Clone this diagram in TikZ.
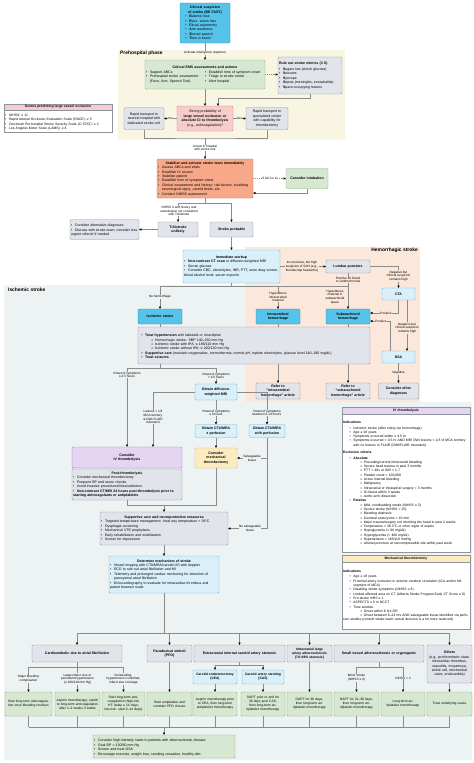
\documentclass[tikz,border=0pt]{standalone}
\usepackage{fontspec}
\setmainfont{Liberation Sans}
\usepackage{xcolor}
\usetikzlibrary{arrows.meta,positioning}

\definecolor{cyanF}{HTML}{56C4EA}
\definecolor{cyanD}{HTML}{2E86B5}
\definecolor{blueF}{HTML}{D9EFF9}
\definecolor{blueD}{HTML}{6DB6D8}
\definecolor{greenF}{HTML}{D6E8D1}
\definecolor{greenD}{HTML}{89AC7F}
\definecolor{grayF}{HTML}{E2E4EB}
\definecolor{grayD}{HTML}{8F939D}
\definecolor{orangeF}{HTML}{F6A888}
\definecolor{orangeD}{HTML}{D5714D}
\definecolor{pinkF}{HTML}{F6CDCB}
\definecolor{pinkD}{HTML}{CD7272}
\definecolor{yellowF}{HTML}{FCEBC1}
\definecolor{yellowD}{HTML}{D6B763}
\definecolor{purpleF}{HTML}{E5D4F2}
\definecolor{purpleD}{HTML}{A17CC4}
\definecolor{preBG}{HTML}{F8F6E3}
\definecolor{hemBG}{HTML}{FCE7DB}
\definecolor{ischBG}{HTML}{EDF2F2}
\definecolor{lineC}{HTML}{8C8C8C}

\newcommand{\fs}{\fontsize{5}{6.3}\selectfont}
\newcommand{\fsi}{\fontsize{4.8}{6.1}\selectfont}
\newcommand{\fss}{\fontsize{4.7}{5.6}\selectfont}
\newcommand{\fsl}{\fontsize{4.5}{5.3}\selectfont}
\newcommand{\ttl}[1]{{\centering\bfseries #1\par}}
\newcommand{\itm}[1][0pt]{\par\hangindent=\dimexpr#1+5.5pt\relax\hangafter=1\noindent\hspace*{#1}\makebox[5.5pt][l]{\textbullet}\ignorespaces}
\newcommand{\sitm}[1][12pt]{\par\hangindent=\dimexpr#1+5.5pt\relax\hangafter=1\noindent\hspace*{#1}\makebox[5.5pt][l]{$\circ$}\ignorespaces}

\tikzset{
	bx/.style={draw, rounded corners=1.5pt, line width=0.6pt, inner xsep=0.6mm, inner ysep=0.4mm, align=center},
	bw/.style={text width=#1*0.5mm-1.2mm},
	bh/.style={minimum height=#1*0.5mm},
	cyanbox/.style={bx, fill=cyanF, draw=cyanD},
	bluebox/.style={bx, fill=blueF, draw=blueD},
	greenbox/.style={bx, fill=greenF, draw=greenD},
	graybox/.style={bx, fill=grayF, draw=grayD},
	orangebox/.style={bx, fill=orangeF, draw=orangeD},
	pinkbox/.style={bx, fill=pinkF, draw=pinkD},
	yellowbox/.style={bx, fill=yellowF, draw=yellowD},
	purplebox/.style={bx, fill=purpleF, draw=purpleD},
	infobody/.style={draw=grayD, fill=white, line width=0.6pt, inner xsep=0.6mm, inner ysep=0.6mm, align=left, font=\fsi},
	infohead/.style={draw=grayD, fill=#1, line width=0.6pt, inner xsep=0.6mm, inner ysep=0pt, font=\fsi\bfseries, align=center},
	conn/.style={draw=lineC, line width=0.6pt},
	arr/.style={conn, -{Triangle[length=3.2pt,width=3pt,black]}},
	dotarr/.style={arr, dotted},
	lbl/.style={font=\fsl, align=center, inner sep=0.5pt, fill=#1},
	lbl/.default=white,
	phase/.style={font=\fontsize{7}{8}\selectfont\bfseries, inner sep=0pt},
}

\begin{document}
\begin{tikzpicture}[x=0.5mm, y=-0.5mm, font=\fs]
		\useasboundingbox (0,0) rectangle (474,763);
		\fill[white] (0,0) rectangle (474,763);
		\fill[preBG] (118,50) rectangle (345,140);
		\fill[hemBG] (245,247) rectangle (420,402);
		\fill[ischBG] (4,285) -- (245,285) -- (245,402) -- (472,402) -- (472,760) -- (4,760) -- cycle;
		\node[phase, anchor=west] (prePhase) at (120,53) {Prehospital phase};
		\node[phase, anchor=east] (hemPhase) at (418,250.5) {Hemorrhagic stroke};
		\node[phase, anchor=west] (ischPhase) at (8,290) {Ischemic stroke};

		\node[cyanbox, bw=50, bh=40, align=left] (fast) at (205,23) {\ttl{Clinical suspicion\\of stroke (BE FAST)}\itm[6pt]\textbf{B}alance loss\itm[6pt]\textbf{E}yes: vision loss\itm[6pt]\textbf{F}acial asymmetry\itm[6pt]\textbf{A}rm weakness\itm[6pt]\textbf{S}lurred speech\itm[6pt]\textbf{T}ime is brain!};
		\node[greenbox, bw=120, bh=29, align=left] (ems) at (205,74.5) {\ttl{Critical EMS assessments and actions}\vspace{1pt}\parbox[t]{0.49\linewidth}{\itm Support ABCs\itm Prehospital stroke assessment (Face, Arm, Speech Test)}\hfill\parbox[t]{0.5\linewidth}{\itm Establish time of symptom onset\itm Triage to stroke center\itm Alert hospital}};
		\node[graybox, bw=64, bh=37, align=left] (mimics) at (310,75.5) {{\bfseries Rule out stroke mimics (3 S)\par}\vspace{1.5pt}\itm\textbf{S}ugars low (check glucose)\itm\textbf{S}eizures\itm\textbf{S}yncope\itm\textbf{S}epsis (meningitis, encephalitis)\itm\textbf{S}pace-occupying lesions};
		\node[pinkbox, bw=56, bh=25] (strong) at (205,118.5) {Strong probability of\\\textbf{large vessel occlusion or}\\\textbf{absolute CI to thrombolysis}\\(e.g., anticoagulation)?};
		\node[graybox, bw=40, bh=22] (nearTr) at (144,118.5) {Rapid transport to\\nearest hospital with\\dedicated stroke unit};
		\node[graybox, bw=42, bh=22] (specTr) at (267,118.5) {Rapid transport to\\specialized center\\with capability for\\thrombectomy};
		\node[infobody, bw=108, bh=22, anchor=north] (scores) at (58,110) {\itm NIHSS: ≥ 11\itm Rapid Arterial Occlusion Evaluation Scale (RACE): ≥ 5\itm Cincinnati Pre-hospital Stroke Severity Scale (C-STAT): ≥ 2\itm Los Angeles Motor Scale (LAMS): ≥ 4};
		\node[infohead=pinkF, bw=108, bh=6, anchor=south] (scoresHead) at (scores.north) {Scores predicting large vessel occlusion};

		\node[orangebox, bw=96, bh=39, align=left] (stab) at (205,178.5) {\ttl{Stabilize and activate stroke team immediately}\itm Assess ABCs and vitals\itm Establish IV access\itm Stabilize patient\itm Establish time of symptom onset\itm Clinical assessment and history: risk factors, localizing neurological signs, carotid bruits, etc.\itm Conduct NIHSS assessment};
		\node[greenbox, bw=42, bh=20] (intub) at (307,178.5) {\textbf{Consider intubation}};
		\node[graybox, bw=40, bh=15] (tia) at (178,229.5) {\textbf{TIA/stroke}\\\textbf{unlikely}};
		\node[graybox, bw=43, bh=15] (probable) at (231.5,229.5) {\textbf{Stroke probable}};
		\node[graybox, bw=69, bh=20, align=left] (altdx) at (104.5,229.5) {\itm Consider alternative diagnoses\itm Discuss with stroke team, consider less urgent referral if needed};
		\node[bluebox, bw=97, bh=33, align=left] (workup) at (231.5,266.5) {\ttl{Immediate workup}\itm\textbf{Non-contrast CT scan} or diffusion-weighted MRI\itm Serum glucose\itm Consider CBC, electrolytes, INR, PTT, urine drug screen, blood alcohol level, serum troponin};

		\node[graybox, bw=44, bh=13] (lp) at (348,266.5) {\textbf{Lumbar puncture}};
		\node[bluebox, bw=33, bh=12] (cta) at (398.5,294) {\textbf{CTA}};
		\node[cyanbox, bw=44, bh=15] (ischemic) at (160,316.5) {\textbf{Ischemic stroke}};
		\node[cyanbox, bw=44, bh=15] (ich) at (278,316.5) {\textbf{Intracerebral}\\\textbf{hemorrhage}};
		\node[cyanbox, bw=44, bh=15] (sah) at (348,316.5) {\textbf{Subarachnoid}\\\textbf{hemorrhage}};
		\node[graybox, bw=232, bh=37, align=left] (treat) at (254,345.5) {\itm[3pt]\textbf{Treat hypertension} with labetalol or nicardipine\sitm[17pt]Hemorrhagic stroke: SBP 140–160 mm Hg\sitm[17pt]Ischemic stroke with tPA: ≤ 185/110 mm Hg\sitm[17pt]Ischemic stroke without tPA: ≤ 220/120 mm Hg\itm[3pt]\textbf{Supportive care} (maintain oxygenation, normothermia, normal pH, replete electrolytes, glucose level 140–180 mg/dL)\itm[3pt]\textbf{Treat seizures}};
		\node[bluebox, bw=33, bh=12] (dsa) at (398.5,357) {\textbf{DSA}};
		\node[graybox, bw=44, bh=16] (referIch) at (278,391) {\textbf{Refer to}\\\textbf{“intracerebral}\\\textbf{hemorrhage” article}};
		\node[graybox, bw=44, bh=16] (referSah) at (348,391) {\textbf{Refer to}\\\textbf{“subarachnoid}\\\textbf{hemorrhage” article}};
		\node[graybox, bw=40, bh=16] (otherDx) at (398.5,391) {\textbf{Consider other}\\\textbf{diagnoses}};

		\node[bluebox, bw=42, bh=16] (dwi) at (216,392) {\textbf{Obtain diffusion-}\\\textbf{weighted MRI}};
		\node[bluebox, bw=42, bh=13] (ctaMra) at (216,431) {\textbf{Obtain CTA/MRA}\\\textbf{± perfusion}};
		\node[bluebox, bw=36, bh=13] (ctaPerf) at (267,431) {\textbf{Obtain CTA/MRA}\\\textbf{with perfusion}};
		\node[yellowbox, bw=42, bh=20] (mech) at (216,458) {\textbf{Consider}\\\textbf{mechanical}\\\textbf{thrombectomy}};
		\node[purplebox, bw=110, bh=21] (ivt) at (127,457.5) {\textbf{Consider}\\\textbf{IV thrombolysis}};
		\node[graybox, bw=110, bh=31, align=left] (post) at (127,484.5) {\ttl{Post-thrombolysis}\itm Consider mechanical thrombectomy\itm Frequent BP and neuro checks\itm Avoid invasive procedures/lines/catheters\itm\textbf{Non-contrast CT/MRI 24 hours post-thrombolysis prior to starting anticoagulants or antiplatelets}};
		\node[graybox, bw=128, bh=33, align=left] (support) at (164,528.5) {\ttl{Supportive care and neuroprotective measures}\itm Targeted temperature management: treat any temperature > 38°C\itm Dysphagia screening\itm Mechanical VTE prophylaxis\itm Early rehabilitation and mobilization\itm Screen for depression};
		\node[bluebox, bw=110, bh=37, align=left] (mechanism) at (164,574.5) {\ttl{Determine mechanism of stroke}\itm Vessel imaging with CTA/MRA/carotid US with doppler\itm ECG to rule out atrial fibrillation and MI\itm Telemetry and prolonged cardiac monitoring for detection of paroxysmal atrial fibrillation\itm Echocardiography to evaluate for intracardiac thrombus and patent foramen ovale};

		\node[infobody, bw=128, bh=138, anchor=north] (ivInfo) at (406,414) {{\bfseries Indications}\par\vspace{2pt}\itm[9pt]Ischemic stroke (after ruling out hemorrhage)\itm[9pt]Age ≥ 18 years\itm[9pt]Symptoms occurred within ≤ 4.5 hr\itm[9pt]Symptoms occurred > 4.5 hr AND MRI DWI lesions < 1/3 of MCA territory with no lesions in FLAIR (DWI/FLAIR mismatch)\par\vspace{4pt}{\bfseries Exclusion criteria}\par\vspace{2pt}\itm[9pt]\textbf{Absolute}\sitm[24pt]Preceding/current intracranial bleeding\sitm[24pt]Severe head trauma in past 3 months\sitm[24pt]PTT > 40s or INR > 1.7\sitm[24pt]Platelet count < 100,000\sitm[24pt]Active internal bleeding\sitm[24pt]Malignancy\sitm[24pt]Intracranial or intraspinal surgery < 3 months\sitm[24pt]GI bleed within 3 weeks\sitm[24pt]Aortic arch dissection\itm[9pt]\textbf{Relative}\sitm[24pt]Mild, nondisabling stroke (NIHSS ≤ 5)\sitm[24pt]Severe stroke (NIHSS > 25)\sitm[24pt]Bleeding diathesis\sitm[24pt]Cerebral aneurysms > 10 mm\sitm[24pt]Major trauma/surgery not involving the head in past 2 weeks\sitm[24pt]Temperature > 38.3°C or other signs of sepsis\sitm[24pt]Hypoglycemia (< 60 mg/dL)\sitm[24pt]Hyperglycemia (> 400 mg/dL)\sitm[24pt]Hypertension > 185/110 mmHg\sitm[24pt]Arterial puncture at noncompressible site within past week};
		\node[infohead=purpleF, bw=128, bh=7, anchor=south] (ivHead) at (ivInfo.north) {IV thrombolysis};
		\node[infobody, bw=128, bh=67, anchor=north] (mtInfo) at (406,562) {{\bfseries Indications}\par\vspace{2pt}\itm[9pt]Age ≥ 18 years\itm[9pt]Proximal artery occlusion in anterior cerebral circulation (ICA and/or M1 segment of MCA)\itm[9pt]Disabling stroke symptoms (NIHSS ≥ 6)\itm[9pt]Limited affected area on CT (Alberta Stroke Program Early CT Score ≥ 6)\itm[9pt]Pre-stroke mRS ≤ 1\itm[9pt]ASPECTS ≥ 6 in NCCT\itm[9pt]Time window\sitm[24pt]Onset within 6 hrs OR\sitm[24pt]Onset between 6–24 hrs AND salvageable tissue identified via perfusion studies (consult stroke team; actual decision is a lot more nuanced)};
		\node[infohead=yellowF, bw=128, bh=7, anchor=south] (mtHead) at (mtInfo.north) {Mechanical thrombectomy};

		\node[graybox, bw=90, bh=17] (cardio) at (77,653.5) {\textbf{Cardioembolic due to atrial fibrillation}};
		\node[graybox, bw=45, bh=17] (pfo) at (169.5,653.5) {\textbf{Paradoxical emboli}\\\textbf{(PFO)}};
		\node[graybox, bw=91, bh=17] (extra) at (239.5,653.5) {\textbf{Extracranial internal carotid artery stenosis}};
		\node[graybox, bw=45, bh=17, font=\fss] (intra) at (309.5,653.5) {\textbf{Intracranial large}\\\textbf{artery atherosclerosis}\\\textbf{(70–99\% stenosis)}};
		\node[graybox, bw=90, bh=17] (small) at (379,653.5) {\textbf{Small vessel atherosclerosis or cryptogenic}};
		\node[graybox, bw=45, bh=38] (others) at (449.5,664) {\textbf{Others}\\(e.g., prothrombotic state, intracardiac thrombus, vasculitis, moyamoya, sickle cell, mechanical valve, endocarditis)};
		\node[bluebox, bw=44, bh=14, font=\fss] (cea) at (215,677) {\textbf{Carotid endarterectomy}\\\textbf{(CEA)}};
		\node[bluebox, bw=42, bh=14, font=\fss] (cas) at (263,677) {\textbf{Carotid artery stenting}\\\textbf{(CAS)}};

		\node[greenbox, bw=47, bh=24, font=\fss] (txBleed) at (28.5,704) {Start long-term anticoagulation once bleeding resolves};
		\node[greenbox, bw=45, bh=24, font=\fss] (txAspirin) at (77.5,704) {Aspirin monotherapy; switch to long-term anticoagulation after 1–2 weeks if stable};
		\node[greenbox, bw=43, bh=24, font=\fss] (txAnticoag) at (123.5,704) {Start long-term anticoagulation (high-risk HT: delay ≥ 14 days; low-risk: start 2–14 days)};
		\node[greenbox, bw=45, bh=24, font=\fss] (txPfo) at (169.5,704) {Start antiplatelet and consider PFO closure};
		\node[greenbox, bw=44, bh=24, font=\fss] (txCea) at (215,704) {Aspirin monotherapy prior to CEA, then long-term antiplatelet monotherapy};
		\node[greenbox, bw=44, bh=24, font=\fss] (txCas) at (263,704) {DAPT prior to and for 30 days post CAS, then long-term antiplatelet monotherapy};
		\node[greenbox, bw=45, bh=24, font=\fss] (txIcas) at (309.5,704) {DAPT for 90 days, then long-term antiplatelet monotherapy};
		\node[greenbox, bw=45, bh=24, font=\fss] (txDapt) at (356.5,704) {DAPT for 21–30 days, then long-term antiplatelet monotherapy};
		\node[greenbox, bw=44, bh=24, font=\fss] (txSapt) at (403,704) {Long-term antiplatelet monotherapy};
		\node[greenbox, bw=45, bh=24, font=\fss] (txCause) at (449.5,704) {Treat underlying cause};
		\node[greenbox, bw=142, bh=23, align=left] (final) at (164,746.5) {\itm Consider high-intensity statin in patients with atherosclerotic disease\itm Goal BP < 130/80 mm Hg\itm Screen and treat OSA\itm Encourage exercise, weight loss, smoking cessation, healthy diet};

		\draw[arr] (fast.south) -- (ems.north);
		\draw[dotarr] (ems.east) -- (ems.east -| mimics.west);
		\draw[arr] (ems.south) -- (strong.north);
		\draw[arr] (mimics.south) -- ++(0,4) -| ([xshift=6.5mm]strong.north);
		\draw[arr] (strong.west) -- (nearTr.east);
		\draw[arr] (strong.east) -- (specTr.west);
		\coordinate (hospJoin) at (205,138);
		\draw[conn] (nearTr.south) |- (hospJoin) -| (specTr.south);
		\draw[arr] (hospJoin) -- (stab.north);
		\draw[dotarr] (stab.east) -- (intub.west);
		\draw[arr] (intub.south) |- ([yshift=-7.25mm]stab.east);
		\coordinate (stabSplit) at (205,203);
		\draw[conn] (stab.south) -- (stabSplit);
		\draw[arr] (stabSplit) -| (tia.north);
		\draw[arr] (stabSplit) -| (probable.north);
		\draw[arr] (tia.west) -- (altdx.east);
		\draw[arr] (probable.south) -- (workup.north);
		\draw[arr] (workup.east) -- (lp.west);
		\draw[arr] (lp.east) -| (cta.north);
		\draw[arr] (lp.south) -- (sah.north);
		\coordinate (ctSplit) at (231.5,286);
		\draw[conn] (workup.south) -- (ctSplit);
		\draw[arr] (ctSplit) -| (ischemic.north);
		\draw[arr] (ctSplit) -| (ich.north);
		\draw[conn] (ctSplit) -- (ctSplit -| sah.north);
		\draw[arr] (cta.south) |- ([yshift=1.75mm]sah.east);
		\draw[arr] ([xshift=4.25mm]cta.south) -- ([xshift=4.25mm]dsa.north);
		\draw[arr] ([xshift=-4.25mm]dsa.north) |- ([yshift=-2.25mm]sah.east);
		\draw[arr] (dsa.south) -- (otherDx.north);
		\foreach \hit in {ischemic,ich,sah} \draw[conn] (\hit.south) -- (\hit.south |- treat.north);
		\draw[arr] (treat.south -| ich.south) -- (referIch.north);
		\draw[arr] (treat.south -| sah.south) -- (referSah.north);
		\coordinate (onsetSplit) at (160,368);
		\draw[conn] (treat.south -| ischemic.south) -- (onsetSplit);
		\draw[arr] (onsetSplit) -| (ivt.north);
		\draw[arr] (onsetSplit) -| (dwi.north);
		\draw[arr] (dwi.west) -| ([xshift=13mm]ivt.north);
		\draw[arr] (dwi.south) -- (ctaMra.north);
		\draw[arr] (ctaMra.south) -- (mech.north);
		\draw[arr] (dwi.east) -| (ctaPerf.north);
		\draw[arr] (ctaPerf.south) |- (support.east);
		\draw[arr] (ctaPerf.south |- mech.east) -- (mech.east);
		\coordinate (supJoin) at (164,505);
		\draw[conn] (post.south) |- (supJoin);
		\draw[conn] (mech.south) |- (supJoin);
		\draw[arr] (supJoin) -- (support.north);
		\draw[arr] (support.south) -- (mechanism.north);
		\coordinate (catSplit) at (164,633);
		\draw[conn] (mechanism.south) -- (catSplit);
		\draw[conn] (catSplit -| cardio.north) -- (catSplit -| others.north);
		\foreach \cat in {cardio,pfo,extra,intra,small,others} \draw[arr] (catSplit -| \cat.north) -- (\cat.north);
		\coordinate (cardioSplit) at (77,667);
		\draw[conn] (cardio.south) -- (cardioSplit);
		\draw[conn] (cardioSplit -| txBleed.north) -- (cardioSplit -| txAnticoag.north);
		\foreach \tx in {txBleed,txAspirin,txAnticoag} \draw[arr] (cardioSplit -| \tx.north) -- (\tx.north);
		\draw[arr] (pfo.south) -- (txPfo.north);
		\coordinate (extraSplit) at (239.5,665);
		\draw[conn] (extra.south) -- (extraSplit);
		\draw[conn] (extraSplit -| cea.north) -- (extraSplit -| cas.north);
		\draw[arr] (extraSplit -| cea.north) -- (cea.north);
		\draw[arr] (extraSplit -| cas.north) -- (cas.north);
		\draw[arr] (cea.south) -- (txCea.north);
		\draw[arr] (cas.south) -- (txCas.north);
		\draw[arr] (intra.south) -- (txIcas.north);
		\coordinate (smallSplit) at (379,667);
		\draw[conn] (small.south) -- (smallSplit);
		\draw[conn] (smallSplit -| txDapt.north) -- (smallSplit -| txSapt.north);
		\draw[arr] (smallSplit -| txDapt.north) -- (txDapt.north);
		\draw[arr] (smallSplit -| txSapt.north) -- (txSapt.north);
		\draw[arr] (others.south) -- (txCause.north);
		\coordinate (finJoin) at (164,727);
		\foreach \tx in {txBleed,txAspirin,txAnticoag,txPfo,txCea,txCas,txIcas,txDapt,txSapt,txCause} \draw[conn] (\tx.south) -- (\tx.south |- finJoin);
		\draw[conn] (finJoin -| txBleed.south) -- (finJoin -| txCause.south);
		\draw[arr] (finJoin) -- (final.north);

		\node[lbl=preBG] (lblEmerg) at (205,53) {Activate emergency response};
		\node[lbl=preBG] (lblNo) at (170.5,118.5) {No};
		\node[lbl=preBG] (lblYes) at (239.5,118.5) {Yes};
		\node[lbl] (lblArrival) at (205,148) {Arrival in hospital\\with stroke unit};
		\node[lbl] (lblGcs) at (269.5,178.5) {If GCS ≤ 8};
		\node[lbl] (lblNihss) at (179,211) {NIHSS 0 and history and\\examination not consistent\\with TIA/stroke};
		\node[lbl=hemBG] (lblSahSusp) at (302,266.5) {Inconclusive, but high\\suspicion of SAH (e.g.,\\thunderclap headache)};
		\node[lbl=hemBG] (lblLpNeg) at (398.5,276) {Negative but\\clinical suspicion\\remains high};
		\node[lbl=hemBG] (lblLpPos) at (348,280) {Positive for blood\\or xanthochromia};
		\node[lbl=ischBG] (lblNoHem) at (160,297) {No hemorrhage};
		\node[lbl=hemBG] (lblIchCt) at (278,297) {Hyperdense\\intracerebral\\material};
		\node[lbl=hemBG, anchor=east] (lblSahCt) at (345,297) {Hyperdense\\material in\\subarachnoid\\space};
		\node[lbl=hemBG] (lblCtaPos) at (386,313) {Positive};
		\node[lbl=hemBG] (lblCtaNeg) at (407,328) {Negative but\\clinical suspicion\\remains high};
		\node[lbl=hemBG] (lblDsaPos) at (381,321) {Positive};
		\node[lbl=hemBG] (lblDsaNeg) at (398.5,373) {Negative};
		\node[lbl=ischBG] (lblEarly) at (127,375) {Onset of symptoms\\≤ 4.5 hours};
		\node[lbl=ischBG] (lblLate) at (216,376) {Onset of symptoms\\> 4.5 hours};
		\node[lbl=ischBG] (lblLesion) at (153,417) {Lesions < 1/3\\MCA territory\\\& DWI-FLAIR\\mismatch};
		\node[lbl=ischBG] (lblSix) at (216,413) {Onset of symptoms\\≤ 6 hours};
		\node[lbl=ischBG] (lblWindow) at (267,413) {Onset of symptoms\\between 6–24 hours};
		\node[lbl=ischBG] (lblSalv) at (252,458) {Salvageable\\tissue};
		\node[lbl=ischBG] (lblNoSalv) at (250,528.5) {No salvageable\\tissue};
		\node[lbl=ischBG] (lblBleed) at (28.5,679) {Major bleeding\\complication};
		\node[lbl=ischBG] (lblInfarct) at (77.5,679) {Large infarct size or\\persistent hypertension\\(≥ 180/110 mm Hg)};
		\node[lbl=ischBG] (lblNoBleed) at (123.5,679) {No bleeding,\\hypertension controlled,\\infarct size not large};
		\node[lbl=ischBG] (lblMinor) at (356.5,678) {Minor stroke\\(NIHSS ≤ 3)};
		\node[lbl=ischBG] (lblMajor) at (403,678) {NIHSS > 3};
\end{tikzpicture}
\end{document}
